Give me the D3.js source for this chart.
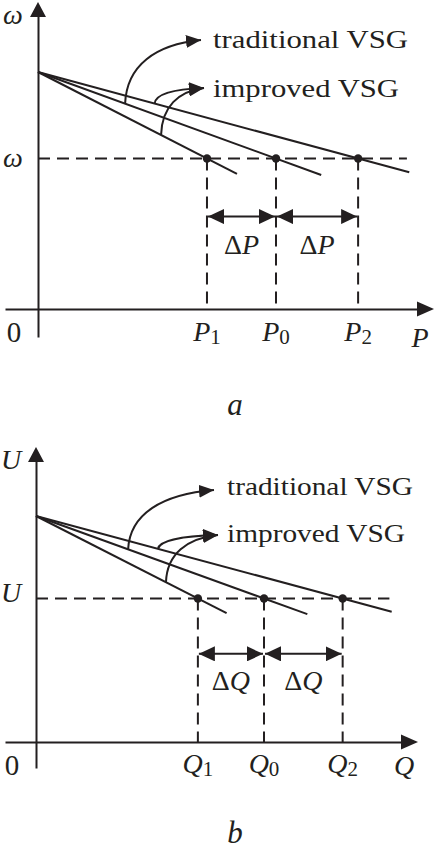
<!DOCTYPE html>
<html>
<head>
<meta charset="utf-8">
<script src="https://cdn.jsdelivr.net/npm/d3@7"></script>
<style>
  body { margin: 0; background: #fff; }
  text { font-family: "Liberation Serif", "Times New Roman", serif; fill: #231f20; }
</style>
</head>
<body>
<div id="chart"></div>
<script>
// droop curves, values in units of P0 (x) and no-load level (y)
const intersectP = [0.71, 1.0, 1.345];   // P1, P0, P2 where each line meets the reference level
const lineEndP = [0.836, 1.19, 1.56];    // where each drawn line stops
const subscripts = ["1", "0", "2"];
const noLoadLevel = 1;
const refLevel = 0.635;
const dashEnd = 1.55;
const deltaArrowLevel = 0.39;
const deltaLabelLevel = 0.23;
const legendLabels = ["traditional VSG", "improved VSG"];
const yNames = ["\u03c9", "U"];
const xNames = ["P", "Q"];
const captions = ["a", "b"];

const ink = "#231f20";
const svg = d3.select("#chart").append("svg").attr("width", 434).attr("height", 850);

// layout of the two panels (pixels)
const panels = [
  { ox: 38, ux: 276, oy: 309, uy: 72, xStart: 5, xTip: 434, yBottom: 337, yTip: 2,
    levelDy: 8, textX: 213, textY: [48, 97], textLen: [195, 186],
    tipTrad: [201, 40], tipImp: [204, 88], startTrad: 0.366, startImp: [0.49, 0.517],
    capY: 415, tickDy: 32, nameDy: 38 },
  { ox: 36, ux: 264, oy: 742, uy: 516, xStart: 5, xTip: 418, yBottom: 768, yTip: 447,
    levelDy: 4, textX: 227, textY: [495, 542], textLen: [186, 178],
    tipTrad: [214, 490], tipImp: [218, 535], startTrad: 0.404, startImp: [0.535, 0.57],
    capY: 843, tickDy: 31, nameDy: 33 }
];

const defs = svg.append("defs");
function marker(id, len, half) {
  defs.append("marker").attr("id", id)
    .attr("markerUnits", "userSpaceOnUse")
    .attr("viewBox", `0 ${-half} ${len} ${half * 2}`)
    .attr("refX", len).attr("refY", 0)
    .attr("markerWidth", len).attr("markerHeight", half * 2)
    .attr("orient", "auto-start-reverse")
    .append("path").attr("d", `M0,${-half}L${len},0L0,${half}Z`).attr("fill", ink);
}
marker("head", 15, 6.5);
marker("dhead", 16, 7.5);

// line through no-load point and the intersection
const lineY = (i, p) => noLoadLevel - (noLoadLevel - refLevel) * p / intersectP[i];
// order on the plot: steep, middle, shallow
const STEEP = 0, MID = 1, SHALLOW = 2;

panels.forEach((L, k) => {
  const x = d3.scaleLinear().domain([0, 1]).range([L.ox, L.ux]);
  const y = d3.scaleLinear().domain([0, 1]).range([L.oy, L.uy]);
  const g = svg.append("g");

  // axes
  const xa = d3.scaleLinear().domain([x.invert(L.xStart), x.invert(L.xTip - 10)]).range([L.xStart, L.xTip - 10]);
  const ya = d3.scaleLinear().domain([y.invert(L.yBottom), y.invert(L.yTip + 10)]).range([L.yBottom, L.yTip + 10]);
  g.append("g").attr("transform", `translate(0,${y(0)})`)
    .call(d3.axisBottom(xa).tickValues([]).tickSizeOuter(0))
    .call(a => a.select(".domain").attr("stroke", ink).attr("stroke-width", 2));
  g.append("g").attr("transform", `translate(${x(0)},0)`)
    .call(d3.axisLeft(ya).tickValues([]).tickSizeOuter(0))
    .call(a => a.select(".domain").attr("stroke", ink).attr("stroke-width", 2));
  // arrow heads on axes
  g.append("path").attr("fill", ink)
    .attr("d", `M${L.xTip},${y(0)}L${L.xTip - 17},${y(0) - 7.5}L${L.xTip - 17},${y(0) + 7.5}Z`);
  g.append("path").attr("fill", ink)
    .attr("d", `M${x(0)},${L.yTip}L${x(0) - 8},${L.yTip + 15}L${x(0) + 8},${L.yTip + 15}Z`);

  // dashed reference level
  g.append("line")
    .attr("x1", x(0)).attr("x2", x(dashEnd))
    .attr("y1", y(refLevel)).attr("y2", y(refLevel))
    .attr("stroke", ink).attr("stroke-width", 2).attr("stroke-dasharray", "12,7");

  // dashed verticals
  g.selectAll(".vdash").data(intersectP).enter().append("line")
    .attr("x1", d => x(d)).attr("x2", d => x(d))
    .attr("y1", y(refLevel)).attr("y2", y(0))
    .attr("stroke", ink).attr("stroke-width", 2).attr("stroke-dasharray", "12,7");

  // droop lines
  const line = d3.line().x(d => x(d[0])).y(d => y(d[1]));
  g.selectAll(".droop").data(lineEndP).enter().append("path")
    .attr("d", (d, i) => line([[0, noLoadLevel], [d, lineY(i, d)]]))
    .attr("fill", "none").attr("stroke", ink).attr("stroke-width", 2);

  // operating points
  g.selectAll(".pt").data(intersectP).enter().append("circle")
    .attr("cx", d => x(d)).attr("cy", y(refLevel)).attr("r", 4.2).attr("fill", ink);

  // delta arrows
  [[0, 1], [1, 2]].forEach(([a, b]) => {
    g.append("line")
      .attr("x1", x(intersectP[a]) + 1).attr("x2", x(intersectP[b]) - 1)
      .attr("y1", y(deltaArrowLevel)).attr("y2", y(deltaArrowLevel))
      .attr("stroke", ink).attr("stroke-width", 2)
      .attr("marker-start", "url(#dhead)").attr("marker-end", "url(#dhead)");
    const t = g.append("text")
      .attr("x", (x(intersectP[a]) + x(intersectP[b])) / 2)
      .attr("y", y(deltaLabelLevel))
      .attr("text-anchor", "middle").attr("font-size", 28);
    t.append("tspan").text("\u0394");
    t.append("tspan").attr("font-style", "italic").text(xNames[k]);
  });

  // tick labels with subscripts
  intersectP.forEach((p, i) => {
    const t = g.append("text").attr("x", x(p)).attr("y", y(0) + L.tickDy)
      .attr("text-anchor", "middle").attr("font-size", 28);
    t.append("tspan").attr("font-style", "italic").text(xNames[k]);
    t.append("tspan").attr("font-size", 21).attr("dy", 3).text(subscripts[i]);
  });

  // axis names
  g.append("text").attr("x", L.xTip - 14).attr("y", y(0) + L.nameDy)
    .attr("text-anchor", "middle").attr("font-size", 28).attr("font-style", "italic").text(xNames[k]);
  g.append("text").attr("x", x(0) - 25).attr("y", L.yTip + 22)
    .attr("text-anchor", "middle").attr("font-size", 28).attr("font-style", "italic").text(yNames[k]);
  g.append("text").attr("x", x(0) - 25).attr("y", y(refLevel) + L.levelDy)
    .attr("text-anchor", "middle").attr("font-size", 28).attr("font-style", "italic").text(yNames[k]);
  g.append("text").attr("x", x(0) - 24).attr("y", y(0) + 33)
    .attr("text-anchor", "middle").attr("font-size", 29).text("0");

  // legend text
  legendLabels.forEach((s, i) => {
    g.append("text").attr("x", L.textX).attr("y", L.textY[i])
      .attr("font-size", 26).attr("textLength", L.textLen[i])
      .attr("lengthAdjust", "spacingAndGlyphs").text(s);
  });

  // curved pointer arrows
  function curve(sx, sy, tip) {
    const ex = tip[0], ey = tip[1];
    const dx = ex - sx, dy = sy - ey;
    return `M${sx},${sy}C${sx + 0.02 * dx},${sy - 0.6 * dy} ${sx + 0.4 * dx},${ey + 0.07 * dy} ${ex},${ey}`;
  }
  const pointers = [
    { i: MID, p: L.startTrad, tip: L.tipTrad },
    { i: SHALLOW, p: L.startImp[0], tip: L.tipImp },
    { i: STEEP, p: L.startImp[1], tip: L.tipImp }
  ];
  g.selectAll(".ptr").data(pointers).enter().append("path")
    .attr("d", d => curve(x(d.p), y(lineY(d.i, d.p)), d.tip))
    .attr("fill", "none").attr("stroke", ink).attr("stroke-width", 2)
    .attr("marker-end", "url(#head)");

  // caption
  g.append("text").attr("x", 235).attr("y", L.capY).attr("text-anchor", "middle")
    .attr("font-size", 31).attr("font-style", "italic").text(captions[k]);
});
</script>
</body>
</html>
